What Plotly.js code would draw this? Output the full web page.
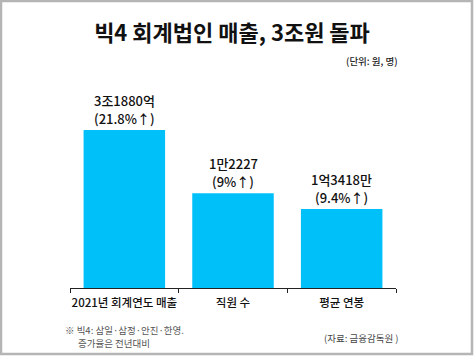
<!DOCTYPE html>
<html>
<head>
<meta charset="utf-8">
<script src="https://cdn.plot.ly/plotly-3.0.1.min.js"></script>
<style>html,body{margin:0;padding:0;background:#fff;}</style>
</head>
<body>
<div id="chart" style="width:474px;height:356px;"></div>
<script>
// Data
const categories = ["2021년 회계연도 매출", "직원 수", "평균 연봉"];
const barHeights = [100, 60, 50]; // display heights (units differ per bar)
const valueLabels = ["3조1880억", "1만2227", "1억3418만"];
const growthLabels = ["(21.8%↑)", "(9%↑)", "(9.4%↑)"];

const W = 474, H = 356;
const L = 70, R = 78, T = 100, B = 68;
const plotW = W - L - R, plotH = H - T - B;
const px = x => (x - L) / plotW;
const py = y => (H - B - y) / plotH;
const FONT = '"Noto Sans CJK KR", "Noto Sans", sans-serif';
const labelFont = {family: FONT, size: 13, color: '#111', weight: 500};

const annotations = [];
categories.forEach((c, i) => {
  annotations.push({
    x: c, y: barHeights[i], xref: 'x', yref: 'y', text: valueLabels[i],
    showarrow: false, yanchor: 'middle', yshift: 30, font: labelFont, borderpad: 0
  });
  annotations.push({
    x: c, y: barHeights[i], xref: 'x', yref: 'y', text: growthLabels[i],
    showarrow: false, yanchor: 'middle', yshift: 12, font: labelFont, borderpad: 0
  });
});
annotations.push(
  {xref: 'paper', yref: 'paper', x: px(400), y: py(61), xanchor: 'right', yanchor: 'middle',
   text: '(단위: 원, 명)', showarrow: false, font: {family: FONT, size: 9.5, color: '#222', weight: 500}},
  {xref: 'paper', yref: 'paper', x: px(64), y: py(330), xanchor: 'left', yanchor: 'middle',
   text: '※ 빅4: 삼일·삼정·안진·한영.', showarrow: false, borderpad: 0,
   font: {family: FONT, size: 9.5, color: '#555'}},
  {xref: 'paper', yref: 'paper', x: px(77), y: py(343), xanchor: 'left', yanchor: 'middle',
   text: '증가율은 전년대비', showarrow: false, borderpad: 0,
   font: {family: FONT, size: 9.5, color: '#555'}},
  {xref: 'paper', yref: 'paper', x: px(401), y: py(338), xanchor: 'right', yanchor: 'middle',
   text: '(자료: 금융감독원 )', showarrow: false, font: {family: FONT, size: 9.5, color: '#444'}}
);

const data = [{
  type: 'bar', x: categories, y: barHeights,
  marker: {color: '#00C0FA'}, hoverinfo: 'none'
}];

const layout = {
  width: W, height: H,
  margin: {l: L, r: R, t: T, b: B, pad: 0},
  paper_bgcolor: '#fff', plot_bgcolor: '#fff',
  showlegend: false, bargap: 0.25,
  title: {text: '<b>빅4 회계법인 매출, 3조원 돌파</b>', x: 232 / W, xanchor: 'center',
          y: 1 - 33 / H, yref: 'container', yanchor: 'middle',
          font: {family: FONT, size: 22, color: '#111'}},
  xaxis: {
    showline: true, linecolor: '#222', linewidth: 1,
    ticks: 'outside', tickson: 'boundaries', ticklen: 4, tickcolor: '#222',
    tickangle: 0, ticklabelstandoff: 4,
    tickfont: {family: FONT, size: 11.5, color: '#111', weight: 500},
    showgrid: false, zeroline: false, fixedrange: true
  },
  yaxis: {
    visible: false, range: [0, 100 * plotH / 158], showgrid: false, zeroline: false, fixedrange: true
  },
  annotations: annotations,
  shapes: [
    {type: 'rect', xref: 'paper', yref: 'paper', x0: px(1), x1: px(472), y0: py(354), y1: py(1),
     line: {color: '#b5b5b5', width: 2.5}, fillcolor: 'rgba(0,0,0,0)'}
  ]
};

Plotly.newPlot('chart', data, layout, {displayModeBar: false, staticPlot: true});
</script>
</body>
</html>
